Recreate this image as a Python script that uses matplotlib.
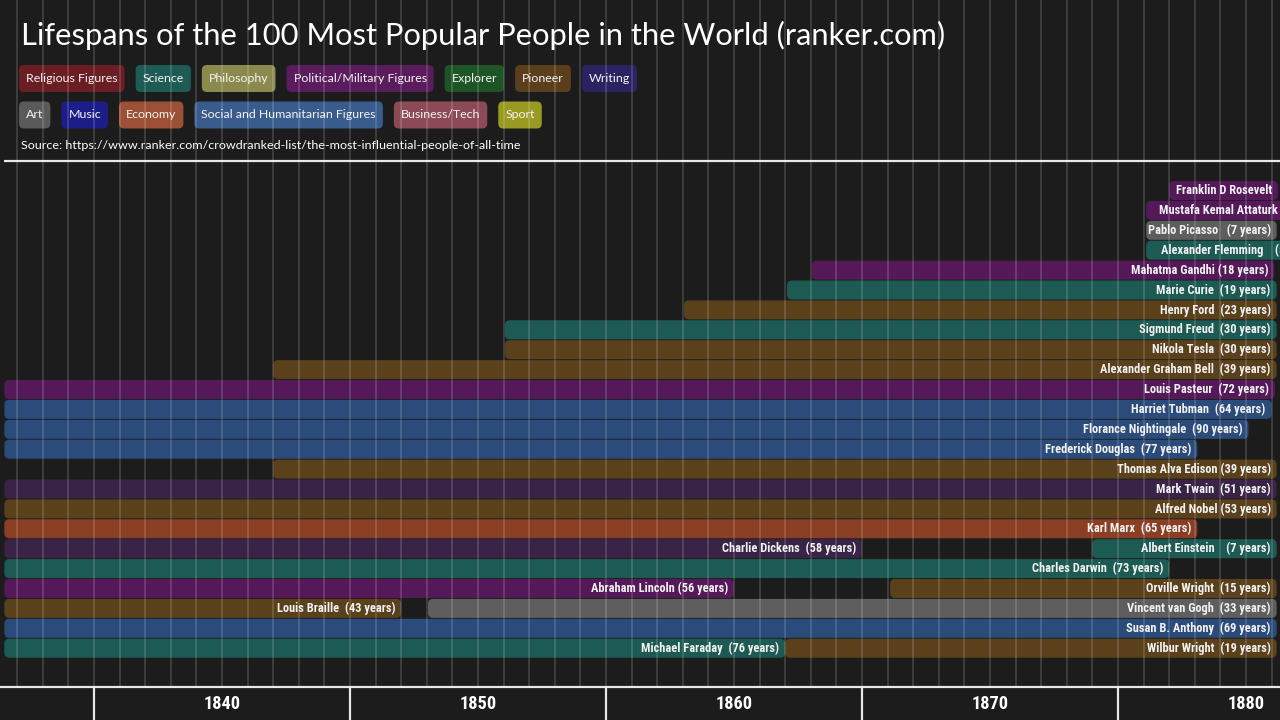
import matplotlib
matplotlib.use("Agg")
import matplotlib.pyplot as plt
from matplotlib import font_manager
from matplotlib.patches import FancyBboxPatch

# ---------------- data ----------------
title = "Lifespans of the 100 Most Popular People in the World (ranker.com)"
source = "Source: https://www.ranker.com/crowdranked-list/the-most-influential-people-of-all-time"

legend_rows = [
    ["Religious Figures", "Science", "Philosophy", "Political/Military Figures",
     "Explorer", "Pioneer", "Writing"],
    ["Art", "Music", "Economy", "Social and Humanitarian Figures",
     "Business/Tech", "Sport"],
]
chip_colors = {
    "Religious Figures": "#6b1d24",
    "Science": "#1e5b55",
    "Philosophy": "#8a8a4e",
    "Political/Military Figures": "#5a1c5c",
    "Explorer": "#1e5527",
    "Pioneer": "#5b3f1c",
    "Writing": "#2b2262",
    "Art": "#5a5a5a",
    "Music": "#1d1d8a",
    "Economy": "#9c5036",
    "Social and Humanitarian Figures": "#3a5c8c",
    "Business/Tech": "#8c4a56",
    "Sport": "#9a9a22",
}
bar_colors = {
    "Political/Military Figures": "#55195a",
    "Science": "#1d5a53",
    "Pioneer": "#5a401b",
    "Art": "#5e5e5e",
    "Social and Humanitarian Figures": "#2b4b7a",
    "Writing": "#392447",
    "Economy": "#8a3f24",
}

bar_row = [0, 1, 2, 3, 4, 5, 6, 7, 8, 9, 10, 11, 12, 13, 14, 15, 16, 17,
           18, 18, 19, 20, 20, 21, 21, 22, 23, 23]
bar_label = [
    "Franklin D Rosevelt", "Mustafa Kemal Attaturk", "Pablo Picasso   (7 years)",
    "Alexander Flemming    (5 years)", "Mahatma Gandhi (18 years)",
    "Marie Curie  (19 years)", "Henry Ford  (23 years)", "Sigmund Freud  (30 years)",
    "Nikola Tesla  (30 years)", "Alexander Graham Bell  (39 years)",
    "Louis Pasteur  (72 years)", "Harriet Tubman  (64 years)",
    "Florance Nightingale  (90 years)", "Frederick Douglas  (77 years)",
    "Thomas Alva Edison (39 years)", "Mark Twain  (51 years)", "Alfred Nobel (53 years)",
    "Karl Marx  (65 years)", "Charlie Dickens  (58 years)", "Albert Einstein    (7 years)",
    "Charles Darwin  (73 years)", "Abraham Lincoln (56 years)", "Orville Wright  (15 years)",
    "Louis Braille  (43 years)", "Vincent van Gogh  (33 years)",
    "Susan B. Anthony  (69 years)", "Michael Faraday  (76 years)",
    "Wilbur Wright  (19 years)",
]
bar_start = [1877.0, 1876.1, 1876.1, 1876.1, 1863.05, 1862.07, 1858.05, 1851.05,
             1851.05, 1842.0, 1831.5, 1831.5, 1831.5, 1831.5, 1842.0, 1831.5, 1831.5,
             1831.5, 1831.5, 1874.0, 1831.5, 1831.5, 1866.1, 1831.5, 1848.05,
             1831.5, 1831.5, 1862.0]
bar_end = [1881.25, 1881.5, 1881.2, 1883.1, 1881.1, 1881.2, 1881.2, 1881.2,
           1881.2, 1881.2, 1881.13, 1881.0, 1880.1, 1878.1, 1881.2, 1881.2, 1881.2,
           1878.1, 1865.0, 1881.2, 1877.0, 1860.0, 1881.2, 1847.0, 1881.2,
           1881.2, 1862.0, 1881.2]
bar_cat = [
    "Political/Military Figures", "Political/Military Figures", "Art", "Science",
    "Political/Military Figures", "Science", "Pioneer", "Science", "Pioneer", "Pioneer",
    "Political/Military Figures", "Social and Humanitarian Figures",
    "Social and Humanitarian Figures", "Social and Humanitarian Figures", "Pioneer",
    "Writing", "Pioneer", "Economy", "Writing", "Science", "Science",
    "Political/Military Figures", "Pioneer", "Pioneer", "Art",
    "Social and Humanitarian Figures", "Science", "Pioneer",
]

axis_years = [1840, 1850, 1860, 1870, 1880]
view_start, view_end = 1831.33, 1881.33

# ---------------- layout (pixels) ----------------
W, H = 1280, 720
BG = "#1c1c1c"
row_top, row_pitch, bar_h = 190.5, 19.9, 19
header_line, grid_bottom = 161, 687

names = {f.name for f in font_manager.fontManager.ttflist}
cond = next((n for n in ["Liberation Sans Narrow", "Roboto Condensed", "DejaVu Sans"]
             if n in names), "DejaVu Sans")
hfont = next((n for n in ["Lato", "Open Sans", "DejaVu Sans"] if n in names),
             "DejaVu Sans")

fig = plt.figure(figsize=(12.8, 7.2), dpi=100, facecolor=BG)
hdr = fig.add_axes([0, 0, 1, 1], zorder=0)
hdr.set_xlim(0, W)
hdr.set_ylim(H, 0)
hdr.axis("off")
ax = fig.add_axes([0, 0, 1, 1], zorder=1)
ax.set_xlim(view_start, view_end)
ax.set_ylim(H, 0)
ax.axis("off")
ppy = W / (view_end - view_start)  # pixels per year

renderer = fig.canvas.get_renderer()


def fit(t, width):
    w = t.get_window_extent(renderer).width
    t.set_fontsize(t.get_fontsize() * width / w)
    return t.get_fontsize()


# header
fit(hdr.text(21, 45, title, ha="left", va="baseline", color="white", family=hfont,
             fontsize=20), 925)
fit(hdr.text(21, 149, source, ha="left", va="baseline", color="white", family=hfont,
             fontsize=9), 498)

probe = hdr.text(0, 0, "Social and Humanitarian Figures", family=hfont, fontsize=9)
chip_fs = fit(probe, 176)
probe.remove()

pad, gap, chip_h = 7, 11, 27
for cy, row in zip([78.5, 115], legend_rows):
    x = 19
    for lab in row:
        t = hdr.text(x + pad, cy, lab, ha="left", va="center", color="#f4f4f4",
                     family=hfont, fontsize=chip_fs, zorder=3)
        w = t.get_window_extent(renderer).width
        hdr.add_patch(FancyBboxPatch((x, cy - chip_h / 2), w + 2 * pad, chip_h,
                                     boxstyle="round,pad=0,rounding_size=5",
                                     fc=chip_colors[lab], ec="none", zorder=2))
        x += w + 2 * pad + gap

hdr.hlines(header_line, 4, W, colors="#e8e8e8", lw=1.6, zorder=3)
hdr.hlines(grid_bottom, 0, W, colors="#e8e8e8", lw=1.6, zorder=3)

# bars
probe = ax.text(1850, 0, "Franklin D Rosevelt", family=cond, fontweight="bold",
                fontstretch="condensed", fontsize=9)
lab_fs = fit(probe, 96)
probe.remove()

for r, lab, s, e, c in zip(bar_row, bar_label, bar_start, bar_end, bar_cat):
    y = row_top + r * row_pitch
    ax.add_patch(FancyBboxPatch((s, y - bar_h / 2), e - s, bar_h,
                                boxstyle=f"round,pad=0,rounding_size={5 / ppy}",
                                mutation_aspect=ppy, fc=bar_colors[c], ec="none",
                                zorder=2))
    ax.text(e - 6 / ppy, y, lab, ha="right", va="center",
            color="#f2f2f2", family=cond, fontweight="bold", fontstretch="condensed",
            fontsize=lab_fs, zorder=5)

# yearly grid lines over everything above the axis strip
ax.vlines(range(1832, 1882), 0, grid_bottom, colors="white", alpha=0.17, lw=1.2,
          zorder=4)

# bottom axis strip
ax.vlines([yr - 5 for yr in axis_years], grid_bottom, H, colors="#e8e8e8", lw=1.6)
probe = ax.text(1850, 0, "1840", family=cond, fontweight="bold",
                fontstretch="condensed", fontsize=12)
yr_fs = fit(probe, 37)
probe.remove()
for yr in axis_years:
    ax.text(yr, 704, str(yr), ha="center", va="center", color="white", family=cond,
            fontweight="bold", fontstretch="condensed", fontsize=yr_fs)

fig.savefig("out.png", dpi=100, facecolor=BG)
